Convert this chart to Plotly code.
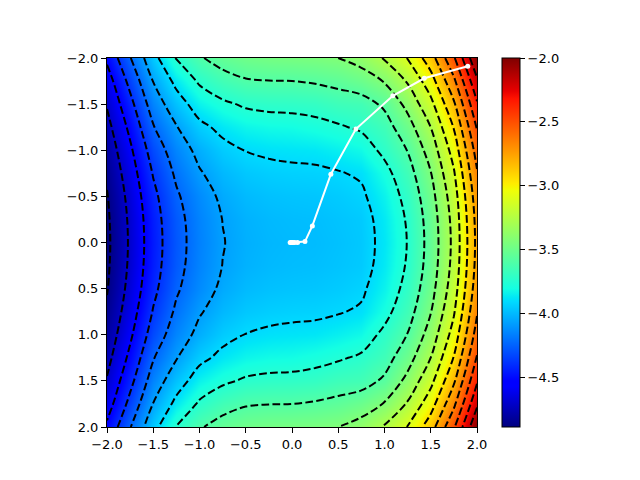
#!/usr/bin/env python3
# -*- coding: utf-8 -*-

"""Surface heatmap with dashed contours and a descent path on top."""

import plotly.graph_objects as go

X_VALUES = [-2.0, -1.75, -1.5, -1.25, -1.0, -0.75, -0.5, -0.25, 0.0,
            0.25, 0.5, 0.75, 1.0, 1.25, 1.5, 1.75, 2.0]
Y_VALUES = [-2.0, -1.75, -1.5, -1.25, -1.0, -0.75, -0.5, -0.25, 0.0,
            0.25, 0.5, 0.75, 1.0, 1.25, 1.5, 1.75, 2.0]

# one row per y value
Z_VALUES = [
    [-4.52, -4.238, -3.96, -3.74, -3.605, -3.53, -3.49, -3.47, -3.46, -3.45, -3.43, -3.375, -3.258, -3.105, -2.862, -2.49, -2.002],
    [-4.624, -4.344, -4.065, -3.87, -3.73, -3.65, -3.603, -3.593, -3.59, -3.575, -3.55, -3.505, -3.42, -3.255, -3.019, -2.663, -2.177],
    [-4.697, -4.436, -4.155, -3.98, -3.84, -3.775, -3.732, -3.717, -3.712, -3.70, -3.665, -3.65, -3.565, -3.385, -3.154, -2.814, -2.329],
    [-4.759, -4.513, -4.24, -4.078, -3.945, -3.875, -3.832, -3.815, -3.809, -3.79, -3.765, -3.73, -3.655, -3.495, -3.269, -2.941, -2.458],
    [-4.81, -4.577, -4.32, -4.15, -4.03, -3.95, -3.907, -3.89, -3.882, -3.875, -3.85, -3.82, -3.717, -3.585, -3.363, -3.045, -2.563],
    [-4.849, -4.626, -4.38, -4.205, -4.083, -4.005, -3.962, -3.944, -3.935, -3.931, -3.918, -3.895, -3.795, -3.655, -3.436, -3.126, -2.645],
    [-4.878, -4.662, -4.427, -4.25, -4.132, -4.045, -4.0, -3.981, -3.972, -3.967, -3.953, -3.93, -3.84, -3.705, -3.488, -3.184, -2.703],
    [-4.894, -4.683, -4.452, -4.277, -4.153, -4.068, -4.023, -4.003, -3.993, -3.988, -3.973, -3.955, -3.866, -3.735, -3.52, -3.218, -2.738],
    [-4.90, -4.69, -4.46, -4.285, -4.16, -4.075, -4.03, -4.01, -4.0, -3.995, -3.98, -3.96, -3.875, -3.745, -3.53, -3.23, -2.75],
    [-4.894, -4.683, -4.452, -4.277, -4.153, -4.068, -4.023, -4.003, -3.993, -3.988, -3.973, -3.955, -3.866, -3.735, -3.52, -3.218, -2.738],
    [-4.878, -4.662, -4.427, -4.25, -4.132, -4.045, -4.0, -3.981, -3.972, -3.967, -3.953, -3.93, -3.84, -3.705, -3.488, -3.184, -2.703],
    [-4.849, -4.626, -4.38, -4.205, -4.083, -4.005, -3.962, -3.944, -3.935, -3.931, -3.918, -3.895, -3.795, -3.655, -3.436, -3.126, -2.645],
    [-4.81, -4.577, -4.32, -4.15, -4.03, -3.95, -3.907, -3.89, -3.882, -3.875, -3.85, -3.82, -3.717, -3.585, -3.363, -3.045, -2.563],
    [-4.759, -4.513, -4.24, -4.078, -3.945, -3.875, -3.832, -3.815, -3.809, -3.79, -3.765, -3.73, -3.655, -3.495, -3.269, -2.941, -2.458],
    [-4.697, -4.436, -4.155, -3.98, -3.84, -3.775, -3.732, -3.717, -3.712, -3.70, -3.665, -3.65, -3.565, -3.385, -3.154, -2.814, -2.329],
    [-4.624, -4.344, -4.065, -3.87, -3.73, -3.65, -3.603, -3.593, -3.59, -3.575, -3.55, -3.505, -3.42, -3.255, -3.019, -2.663, -2.177],
    [-4.52, -4.238, -3.96, -3.74, -3.605, -3.53, -3.49, -3.47, -3.46, -3.45, -3.43, -3.375, -3.258, -3.105, -2.862, -2.49, -2.002],
]

PATH_X = [1.90, 1.43, 1.09, 0.69, 0.42, 0.22, 0.14, 0.06, 0.03, 0.01, 0.0, -0.01, -0.02]
PATH_Y = [-1.91, -1.78, -1.59, -1.23, -0.74, -0.18, -0.01, 0.0, 0.0, 0.0, 0.0, 0.0, 0.0]

AXIS_TICKS = [-2.0, -1.5, -1.0, -0.5, 0.0, 0.5, 1.0, 1.5, 2.0]
AXIS_LABELS = ["\u22122.0", "\u22121.5", "\u22121.0", "\u22120.5", "0.0", "0.5", "1.0", "1.5", "2.0"]
BAR_TICKS = [-2.0, -2.5, -3.0, -3.5, -4.0, -4.5]
BAR_LABELS = ["\u22122.0", "\u22122.5", "\u22123.0", "\u22123.5", "\u22124.0", "\u22124.5"]

Z_MIN = -4.89
Z_MAX = -2.0
LEVEL_START = -4.87
LEVEL_END = -1.99
LEVEL_STEP = 0.16

JET = [
    [0.0, "rgb(0,0,127)"], [0.11, "rgb(0,0,255)"], [0.125, "rgb(0,0,255)"],
    [0.34, "rgb(0,219,255)"], [0.35, "rgb(0,230,247)"], [0.375, "rgb(21,255,226)"],
    [0.64, "rgb(239,255,8)"], [0.65, "rgb(247,246,0)"], [0.66, "rgb(255,236,0)"],
    [0.89, "rgb(255,19,0)"], [0.91, "rgb(232,0,0)"], [1.0, "rgb(127,0,0)"],
]

FONT = dict(family="DejaVu Sans", size=13, color="black")


def axis_style():
    return dict(
        tickmode="array",
        tickvals=AXIS_TICKS,
        ticktext=AXIS_LABELS,
        ticks="outside",
        ticklen=5,
        tickwidth=1,
        tickcolor="black",
        showline=True,
        linecolor="black",
        linewidth=1,
        mirror=True,
        showgrid=False,
        zeroline=False,
        automargin=False,
        tickfont=FONT,
    )


fig = go.Figure()

fig.add_trace(
    go.Heatmap(
        x=X_VALUES,
        y=Y_VALUES,
        z=Z_VALUES,
        zmin=Z_MIN,
        zmax=Z_MAX,
        zsmooth="best",
        colorscale=JET,
        colorbar=dict(
            x=395 / 370,
            xanchor="left",
            xpad=0,
            y=0,
            yanchor="bottom",
            ypad=0,
            len=1,
            lenmode="fraction",
            thickness=18,
            thicknessmode="pixels",
            outlinewidth=1,
            outlinecolor="black",
            tickmode="array",
            tickvals=BAR_TICKS,
            ticktext=BAR_LABELS,
            ticks="outside",
            ticklen=5,
            tickwidth=1,
            tickcolor="black",
            tickfont=FONT,
        ),
    )
)

fig.add_trace(
    go.Contour(
        x=X_VALUES,
        y=Y_VALUES,
        z=Z_VALUES,
        autocontour=False,
        contours=dict(coloring="none", start=LEVEL_START, end=LEVEL_END, size=LEVEL_STEP),
        line=dict(color="black", width=2, dash="7.7px,3.3px", smoothing=1.0),
        showscale=False,
    )
)

fig.add_trace(
    go.Scatter(
        x=PATH_X,
        y=PATH_Y,
        mode="lines+markers",
        line=dict(color="white", width=2),
        marker=dict(color="white", size=5),
        showlegend=False,
    )
)

# the page body adds 8px on the top and left, so the margins allow for that
fig.update_layout(
    width=640,
    height=480,
    paper_bgcolor="white",
    plot_bgcolor="white",
    margin=dict(l=99, r=171, t=50, b=61, autoexpand=False),
    showlegend=False,
    font=FONT,
)
fig.update_xaxes(range=[-2, 2], **axis_style())
fig.update_yaxes(range=[2, -2], **axis_style())

fig.write_html("out.html")
